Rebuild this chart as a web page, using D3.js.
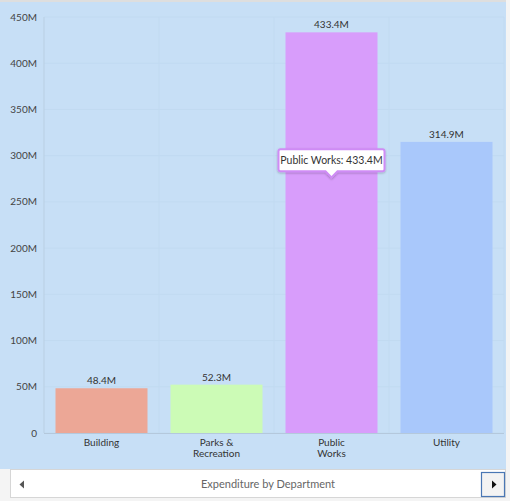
<!DOCTYPE html>
<html>
<head>
<meta charset="utf-8">
<script src="https://cdn.jsdelivr.net/npm/d3@7"></script>
<style>
  body { margin: 0; background: #f4f4f4; }
  svg { display: block; font-family: Lato, "Open Sans", sans-serif; }
</style>
</head>
<body>
<script>
// chart data
var departments = ["Building", "Parks & Recreation", "Public Works", "Utility"];
var labelLines = [["Building"], ["Parks &", "Recreation"], ["Public", "Works"], ["Utility"]];
var expenditure = [48.4, 52.3, 433.4, 314.9];
var barColors = ["#eca796", "#ccfbb6", "#d89dfb", "#a9c8fb"];
var yTicks = [0, 50, 100, 150, 200, 250, 300, 350, 400, 450];
var chartTitle = "Expenditure by Department";
var tipIndex = 2;

var svg_width = 510, svg_height = 501;
var margins = { top: 17, left: 44, right: 6, bottom: 68 };
var plotBottom = 433;
var plotRight = 504;

var svg = d3.select("body").append("svg")
  .attr("width", svg_width)
  .attr("height", svg_height);

// page background pieces
svg.append("rect").attr("x", 0).attr("y", 0).attr("width", svg_width).attr("height", svg_height).style("fill", "#f4f4f4");
svg.append("rect").attr("x", 0).attr("y", 0).attr("width", 506).attr("height", 2).style("fill", "#dedede");
svg.append("rect").attr("x", 0).attr("y", 2).attr("width", 506).attr("height", 467).style("fill", "#c7dff6");

// scales
var x = d3.scaleBand()
  .domain(departments)
  .range([margins.left, plotRight])
  .paddingInner(0.2)
  .paddingOuter(0.1);

var y = d3.scaleLinear()
  .domain([0, 450])
  .range([plotBottom, margins.top]);

// grid lines (very faint)
var g = svg.append("g");
g.selectAll(".hgrid").data(yTicks).enter().append("line")
  .attr("x1", margins.left).attr("x2", plotRight)
  .attr("y1", d => y(d)).attr("y2", d => y(d))
  .style("stroke", "#c1daf1").style("stroke-width", 1);

var bounds = d3.range(0, departments.length + 1).map(i => margins.left + i * (plotRight - margins.left) / departments.length);
g.selectAll(".vgrid").data(bounds).enter().append("line")
  .attr("x1", d => d).attr("x2", d => d)
  .attr("y1", margins.top).attr("y2", plotBottom)
  .style("stroke", d => d == margins.left ? "#b9cfe3" : "#c1daf1").style("stroke-width", 1);

// bars
g.selectAll(".bar").data(expenditure).enter().append("rect")
  .attr("x", (d, i) => x(departments[i]))
  .attr("y", d => y(d))
  .attr("width", x.bandwidth())
  .attr("height", d => plotBottom - y(d))
  .style("fill", (d, i) => barColors[i]);

// x axis line
g.append("line").attr("x1", margins.left).attr("x2", plotRight)
  .attr("y1", plotBottom + 0.5).attr("y2", plotBottom + 0.5)
  .style("stroke", "#b4c8dc");

// value labels
g.selectAll(".val").data(expenditure).enter().append("text")
  .attr("x", (d, i) => x(departments[i]) + x.bandwidth() / 2)
  .attr("y", d => y(d) - 4)
  .attr("text-anchor", "middle")
  .style("font-size", "10px")
  .style("fill", "#333")
  .text(d => d.toFixed(1) + "M");

// y tick labels
g.selectAll(".ytick").data(yTicks).enter().append("text")
  .attr("x", 37)
  .attr("y", d => y(d) + 3.5)
  .attr("text-anchor", "end")
  .style("font-size", "10px")
  .style("fill", "#444")
  .text(d => d == 0 ? "0" : d + "M");

// category labels, one text per line
var lines = [];
labelLines.forEach((l, i) => l.forEach((t, j) => lines.push({ t: t, i: i, j: j })));
g.selectAll(".cat").data(lines).enter().append("text")
  .attr("x", d => x(departments[d.i]) + x.bandwidth() / 2)
  .attr("y", d => 446 + d.j * 11)
  .attr("text-anchor", "middle")
  .style("font-size", "10px")
  .style("fill", "#333")
  .text(d => d.t);

// tooltip
var tipX = x(departments[tipIndex]) + x.bandwidth() / 2;
var tipY = y(expenditure[tipIndex]) + 140;
var tip = svg.append("g").attr("transform", "translate(" + tipX + "," + tipY + ")");
var defs = svg.append("defs");
var filt = defs.append("filter").attr("id", "shadow").attr("x", "-20%").attr("y", "-40%").attr("width", "140%").attr("height", "180%");
filt.append("feDropShadow").attr("dx", 0).attr("dy", 1).attr("stdDeviation", 1.2).attr("flood-color", "#000").attr("flood-opacity", 0.25);
tip.append("path")
  .attr("d", "M-51,-23 H51 Q53,-23 53,-21 V-3 Q53,-1 51,-1 H6 L0,5 L-6,-1 H-51 Q-53,-1 -53,-3 V-21 Q-53,-23 -51,-23 Z")
  .style("fill", "#fff")
  .style("stroke", "#cf8cf5")
  .style("stroke-width", 2)
  .attr("filter", "url(#shadow)");
tip.append("text")
  .attr("x", 0).attr("y", -8.5)
  .attr("text-anchor", "middle")
  .style("font-size", "10.5px")
  .style("fill", "#333")
  .text(departments[tipIndex] + ": " + expenditure[tipIndex].toFixed(1) + "M");

// bottom title panel
svg.append("rect").attr("x", 0).attr("y", 469).attr("width", 506).attr("height", 32).style("fill", "#f4f4f4");
svg.append("rect").attr("x", 10.5).attr("y", 469.5).attr("width", 495).attr("height", 28)
  .style("fill", "#fff").style("stroke", "#d6d6d6");
svg.append("path").attr("d", "M24,480.5 L24,488.5 L19.5,484.5 Z").style("fill", "#555");
svg.append("text")
  .attr("x", 268).attr("y", 488)
  .attr("text-anchor", "middle")
  .style("font-size", "11px")
  .style("fill", "#666")
  .text(chartTitle);
svg.append("rect").attr("x", 481.5).attr("y", 472.5).attr("width", 23).attr("height", 24)
  .style("fill", "#f3f3f3").style("stroke", "#4a77b4").style("stroke-width", 1.2);
svg.append("path").attr("d", "M492,480.5 L492,488.5 L496.5,484.5 Z").style("fill", "#111");
</script>
</body>
</html>
